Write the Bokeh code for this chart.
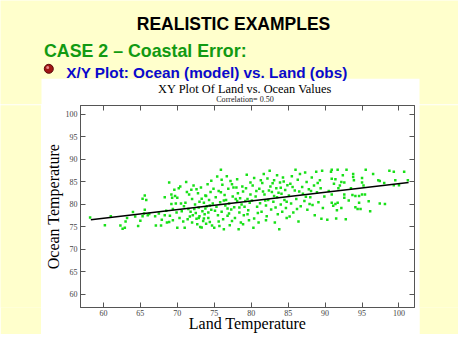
from bokeh.plotting import figure
from bokeh.layouts import column, row
from bokeh.models import LinearAxis, Label, FixedTicker, Range1d
from bokeh.embed import file_html
from bokeh.resources import INLINE

# ---- data ----
land_temp = [
    58.2, 60.2, 61.0, 62.3, 62.6, 62.9, 63.0, 64.3, 64.7, 65.0, 65.3, 65.5, 65.6, 65.3, 65.6, 65.8, 63.2, 64.0,
    66.0, 66.2, 67.0, 67.1, 67.5, 67.9, 67.8, 68.3, 68.3, 68.6, 68.9, 68.9, 69.2, 69.3, 69.2, 69.4, 69.0, 68.5, 69.6, 69.7, 69.8, 69.4, 69.9,
    70.0, 70.2, 70.5, 70.0, 70.3, 70.6, 70.8, 71.0, 71.1, 71.3,
    71.6, 71.9, 71.5, 71.7, 72.0, 72.0, 72.2, 72.4, 72.5, 72.6,
    72.7, 72.8, 72.9, 73.0, 73.1, 73.2, 73.3, 73.4, 73.5, 73.6,
    73.7, 73.8, 73.9, 74.0, 74.1, 74.2, 74.3, 74.4, 74.5, 74.6,
    74.7, 74.8, 74.9, 70.4, 71.2, 72.3, 72.9, 73.6, 73.0, 74.4,
    71.8, 72.1, 73.3, 74.6, 70.9, 72.6, 73.9, 74.2, 71.4, 73.8,
    75.0, 75.4, 75.9, 75.2, 75.3, 75.5, 75.6, 75.7, 75.8, 76.0,
    76.1, 76.2, 76.3, 76.4, 76.5, 76.6, 76.7, 76.8, 76.9, 77.0,
    77.2, 77.3, 77.4, 77.4, 77.5, 77.6, 77.7, 77.8, 78.0, 78.1,
    78.2, 78.3, 78.4, 78.5, 78.6, 78.7, 78.8, 78.9, 79.0, 79.1,
    79.3, 79.4, 79.5, 79.6, 79.7, 79.8, 79.9, 79.9, 75.1, 75.9,
    76.3, 77.0, 77.9, 78.4, 79.2, 76.8, 75.6, 78.9, 77.1, 79.5,
    76.0, 78.1,
    80.3, 80.4, 80.4, 80.6, 80.8, 81.0, 81.1, 81.2, 81.4, 81.5,
    81.7, 81.8, 82.0, 82.1, 82.3, 82.5, 82.6, 82.7, 82.8, 83.0,
    83.1, 83.2, 83.3, 83.4, 83.5, 83.6, 83.8, 83.9, 84.0, 84.1,
    84.2, 84.3, 84.5, 84.6, 84.7, 84.8, 84.9, 80.1, 80.7, 81.3,
    82.2, 82.4, 83.7, 84.4, 80.9, 81.9, 83.1, 84.0, 82.9, 81.6,
    80.2, 84.8, 83.5, 82.0,
    85.1, 85.3, 85.4, 85.5, 85.7, 85.9, 86.0, 86.1, 86.3, 86.4,
    86.6, 86.7, 86.9, 87.0, 87.2, 87.3, 87.5, 87.6, 87.8, 88.0,
    88.2, 88.3, 88.5, 88.6, 88.8, 88.9, 89.1, 89.3, 89.4, 89.6,
    89.7, 89.9, 85.6, 86.5, 87.4, 88.1, 89.0, 86.2, 87.9, 85.2,
    89.5, 90.3, 90.8,
    90.9, 91.7, 92.9, 95.5, 98.7, 99.3, 100.7, 93.8, 93.8, 93.9,
    95.0, 95.0, 95.2, 97.2, 97.4, 99.5, 101.2, 99.3, 100.0, 90.9,
    91.4, 92.2, 92.6, 92.0, 91.8, 93.5, 90.9, 92.6, 92.6, 93.7,
    94.1, 94.6, 95.0, 95.4, 90.9, 91.4, 91.7, 91.1, 92.2, 91.6,
    94.1, 94.4, 94.8, 94.6, 95.9, 96.1, 97.4, 98.1, 91.5, 92.8,
    90.5, 91.2, 92.4, 96.5, 98.0, 93.2,
]
ocean_temp = [
    77.1, 75.4, 77.4, 75.3, 74.6, 74.8, 76.2, 77.3, 75.2, 76.4, 77.4, 78.0, 78.8, 81.3, 82.0, 81.0, 77.0, 78.3,
    77.6, 77.9, 77.4, 75.3, 78.0, 76.6, 75.3, 81.6, 77.6, 76.0, 76.1, 84.9, 82.2, 81.5, 80.1, 79.0, 77.5, 78.6, 83.3, 81.9, 80.2, 76.5, 78.2,
    81.5, 83.6, 80.2, 74.8, 77.0, 78.5, 76.2, 74.8, 80.4, 82.8,
    82.2, 83.3, 79.0, 77.3, 76.0, 81.2, 84.2, 80.0, 78.1, 76.8,
    75.6, 82.5, 79.3, 77.4, 75.0, 83.8, 81.3, 78.5, 76.3, 80.4,
    77.8, 82.0, 75.7, 79.6, 84.5, 77.0, 81.0, 76.1, 82.8, 78.8,
    75.3, 80.2, 83.5, 84.0, 85.0, 79.0, 77.0, 76.9, 80.6, 79.8,
    78.4, 77.6, 74.9, 85.3, 79.6, 83.4, 81.9, 78.2, 76.7, 79.1,
    74.8, 86.2, 87.7, 81.6, 79.5, 77.6, 83.0, 75.2, 80.5, 78.4,
    84.4, 76.7, 74.5, 82.1, 79.8, 81.0, 86.3, 77.5, 83.5, 80.2,
    85.2, 78.9, 84.5, 76.3, 81.8, 83.8, 79.4, 77.0, 83.8, 80.8,
    82.5, 74.5, 78.2, 81.4, 76.0, 80.0, 84.0, 82.9, 77.6, 79.5,
    83.6, 86.6, 81.2, 78.7, 76.5, 80.4, 84.9, 82.2, 78.6, 82.7,
    80.9, 78.0, 81.2, 79.3, 80.8, 79.1, 76.2, 75.6, 75.4, 77.8,
    85.5, 85.6,
    74.8, 85.9, 76.9, 81.8, 79.5, 76.0, 83.5, 80.3, 78.4, 84.8,
    86.8, 82.2, 79.8, 77.4, 81.0, 87.5, 84.0, 78.9, 82.8, 80.6,
    85.4, 76.0, 79.3, 83.6, 81.6, 77.8, 74.5, 84.9, 80.0, 82.4,
    78.4, 86.0, 81.0, 83.2, 79.2, 77.0, 84.3, 80.9, 83.0, 85.4,
    85.8, 83.1, 82.6, 85.1, 78.1, 80.9, 81.9, 83.7, 84.7, 82.9,
    84.2, 80.6, 86.5, 76.5,
    82.0, 84.6, 80.2, 86.3, 78.2, 83.1, 87.7, 81.2, 85.5, 76.2,
    86.8, 79.6, 83.9, 82.4, 80.8, 87.1, 85.0, 78.8, 83.4, 81.6,
    86.0, 79.9, 84.2, 77.6, 87.3, 82.7, 80.5, 85.4, 83.6, 87.5,
    79.2, 81.8, 83.9, 82.9, 81.7, 83.0, 84.8, 79.0, 80.1, 77.3,
    76.8, 76.6, 87.3,
    87.7, 87.7, 87.7, 87.7, 87.5, 87.3, 87.3, 86.8, 86.1, 85.4,
    85.9, 84.9, 84.2, 85.4, 85.2, 85.4, 85.4, 84.3, 84.3, 85.7,
    85.6, 85.0, 84.9, 84.2, 83.6, 83.6, 82.2, 82.2, 81.5, 82.1,
    81.9, 81.9, 82.2, 82.2, 80.4, 80.1, 80.4, 79.7, 79.2, 78.7,
    79.4, 79.0, 79.0, 80.4, 80.7, 78.5, 80.2, 80.1, 76.9, 76.7,
    83.0, 84.6, 86.5, 86.8, 84.8, 80.9,
]
assert len(land_temp) == len(ocean_temp)

fit_land = [58.3, 101.3]
fit_ocean = [76.6, 84.9]
tick_values = [60, 65, 70, 75, 80, 85, 90, 95, 100]

slide_title = "REALISTIC EXAMPLES"
case_title = "CASE 2 \u2013 Coastal Error:"
bullet_text = "X/Y Plot: Ocean (model) vs. Land (obs)"
chart_title = "XY Plot Of Land vs. Ocean Values"
chart_subtitle = "Correlation= 0.50"
x_label = "Land Temperature"
y_label = "Ocean Temperature"

YELLOW = "#FFFFCC"
SERIF = "Liberation Serif"
SANS = "Liberation Sans"


def blank(w, h):
    f = figure(width=w, height=h, x_range=Range1d(0, w), y_range=Range1d(0, h),
               output_backend="svg", toolbar_location=None,
               x_axis_type=None, y_axis_type=None, min_border=0,
               border_fill_color=YELLOW, background_fill_color=YELLOW,
               outline_line_color=None)
    f.grid.visible = False
    return f


def add_text(f, x, y, text, size, font, color, style="normal", align="left"):
    f.add_layout(Label(x=x, y=y, text=text, text_font=font, text_font_size=size,
                       text_color=color, text_font_style=style, text_align=align,
                       text_baseline="alphabetic"))


# ---- header: slide texts + chart title (white panel top part) ----
head = blank(458, 104)
head.quad(left=41, right=419, bottom=0, top=25.7, fill_color="white", line_color=None)
add_text(head, 233, 80.1, slide_title, "17.5px", SANS, "black", "bold", "center")
add_text(head, 43.5, 53.9, case_title, "17.8px", SANS, "#129a12", "bold")
add_text(head, 65.7, 31.9, bullet_text, "15.3px", SANS, "#0a0acc", "bold")
head.scatter(x=[48.3], y=[35.7], size=9, fill_color="#a01515", line_color="#5a0a0a")
head.scatter(x=[47.2], y=[36.9], size=3, fill_color="#e88a8a", line_color=None)
add_text(head, 244.5, 15.7, chart_title, "12.4px", SERIF, "black", "normal", "center")
add_text(head, 244.5, 5.2, chart_subtitle, "8.1px", SERIF, "#222222", "normal", "center")

# ---- side strips and footer (slide background) ----
left_strip = blank(41, 230)
right_strip = blank(39, 230)
footer = blank(458, 5)

# ---- main chart ----
p = figure(width=378, height=230,
           x_range=Range1d(56.9, 102.1), y_range=Range1d(57.1, 102.0),
           output_backend="svg", toolbar_location=None,
           min_border_left=34, min_border_right=5,
           min_border_top=1, min_border_bottom=26,
           border_fill_color="white", background_fill_color="white",
           outline_line_color="#555555")
p.grid.visible = False

bottom_ax = p.below[0]
left_ax = p.left[0]
top_ax = LinearAxis()
right_ax = LinearAxis()
p.add_layout(top_ax, "above")
p.add_layout(right_ax, "right")

for ax in [bottom_ax, left_ax, top_ax, right_ax]:
    ax.ticker = FixedTicker(ticks=tick_values)
    ax.major_tick_in = 5
    ax.major_tick_out = 0
    ax.minor_tick_line_color = None
    ax.axis_line_color = "#555555"
    ax.major_tick_line_color = "#555555"
    ax.major_label_text_font = SERIF
    ax.major_label_text_font_size = "8px"
    ax.major_label_text_color = "#444444"
bottom_ax.major_label_standoff = 2
left_ax.major_label_standoff = 3
for ax in [top_ax, right_ax]:
    ax.major_label_overrides = {v: "" for v in tick_values}
    ax.major_label_text_font_size = "0px"
    ax.major_label_standoff = 0

for ax, text, standoff in [(bottom_ax, x_label, -4), (left_ax, y_label, 1)]:
    ax.axis_label = text
    ax.axis_label_text_font = SERIF
    ax.axis_label_text_font_size = "16px"
    ax.axis_label_text_font_style = "normal"
    ax.axis_label_text_color = "black"
    ax.axis_label_standoff = standoff

p.scatter(land_temp, ocean_temp, marker="square", size=2.5,
          fill_color="#18e018", line_color=None)
p.line(fit_land, fit_ocean, line_color="black", line_width=1.5)

layout = column(head, row(left_strip, p, right_strip), footer)
open("out.html", "w").write(file_html(layout, INLINE))
